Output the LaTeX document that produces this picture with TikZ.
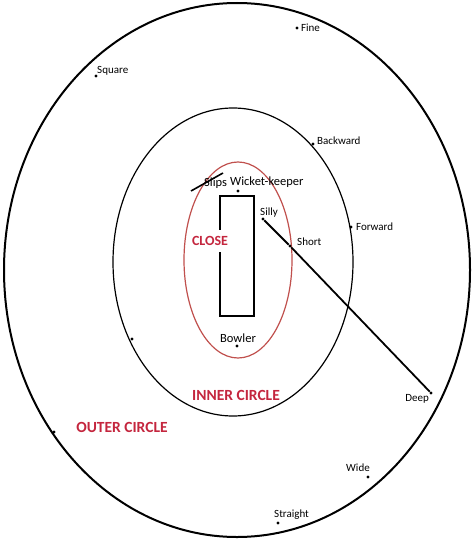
\documentclass[tikz,border=0pt]{standalone}
\usepackage{fontspec}
\setmainfont{Carlito}
\usepackage{tikz}
\usetikzlibrary{positioning}

\definecolor{closeline}{RGB}{192,80,77}
\definecolor{zonered}{RGB}{196,38,62}

\begin{document}
\begin{tikzpicture}
    [
      x = 1pt, y = -1pt,
      fielder/.style = {circle, fill, inner sep=0pt, minimum size=3.4pt},
      poslabel/.style = {font=\fontsize{11}{13}\selectfont, inner sep=0pt},
      bigposlabel/.style = {font=\fontsize{12.5}{15}\selectfont, inner sep=0pt},
      zone/.style = {font=\bfseries\fontsize{15.5}{18}\selectfont, text=zonered, inner sep=1pt},
    ]

    \useasboundingbox (0,0) rectangle (474,543);

    % boundaries and pitch
    \draw[line width=2pt] (237,270) ellipse [x radius=233pt, y radius=267pt];
    \draw[line width=1.2pt] (233,262) ellipse [x radius=120pt, y radius=154pt];
    \draw[closeline, line width=1.2pt] (238,260) ellipse [x radius=54pt, y radius=98pt];
    \draw[line width=1.4pt] (220,196) rectangle (254,316);

    \node[zone, font=\bfseries\fontsize{14}{17}\selectfont, fill=white, minimum height=22pt] (close) at (210,241) {CLOSE};
    \node[zone] (inner) at (236,395) {INNER CIRCLE};
    \node[zone] (outer) at (122,427) {OUTER CIRCLE};

    % fielding positions
    \node[fielder] (fine) at (297,28) {};
    \node[fielder] (square) at (96,76) {};
    \node[fielder] (backward) at (313,144) {};
    \node[fielder] (forward) at (351,227) {};
    \node[fielder] (keeper) at (238,191) {};
    \node[fielder] (silly) at (263,219) {};
    \node[fielder] (short) at (290,246) {};
    \node[fielder] (bowler) at (237,346) {};
    \node[fielder] (deep) at (431,393) {};
    \node[fielder] (wide) at (368,477) {};
    \node[fielder] (straight) at (278,523) {};
    \node[fielder] (ringdot) at (132,339) {};
    \node[fielder] (edgedot) at (54,432) {};

    \node[poslabel, right=2pt of fine] (finetxt) {Fine};
    \node[poslabel, anchor=west] (squaretxt) at (97,71) {Square};
    \node[poslabel, right=2pt of backward, yshift=3pt] (backwardtxt) {Backward};
    \node[poslabel, right=3pt of forward] (forwardtxt) {Forward};
    \node[bigposlabel, anchor=west] (keepertxt) at (230,182) {Wicket-keeper};
    \node[bigposlabel, anchor=west] (slipstxt) at (204,183) {Slips};
    \node[poslabel, anchor=west] (sillytxt) at (260,213) {Silly};
    \node[poslabel, anchor=west] (shorttxt) at (297,242) {Short};
    \node[bigposlabel] (bowlertxt) at (238,338) {Bowler};
    \node[poslabel, anchor=east] (deeptxt) at (429,399) {Deep};
    \node[poslabel, anchor=west] (widetxt) at (346,468) {Wide};
    \node[poslabel, anchor=west] (straighttxt) at (274,515) {Straight};

    % slips cordon and the line out to deep
    \coordinate (slipsA) at (191,191);
    \coordinate (slipsB) at (223,173);
    \draw[line width=1.6pt] (slipsA) -- (slipsB);
    \draw[line width=1.8pt] (silly) -- (short) -- (deep);
\end{tikzpicture}
\end{document}
